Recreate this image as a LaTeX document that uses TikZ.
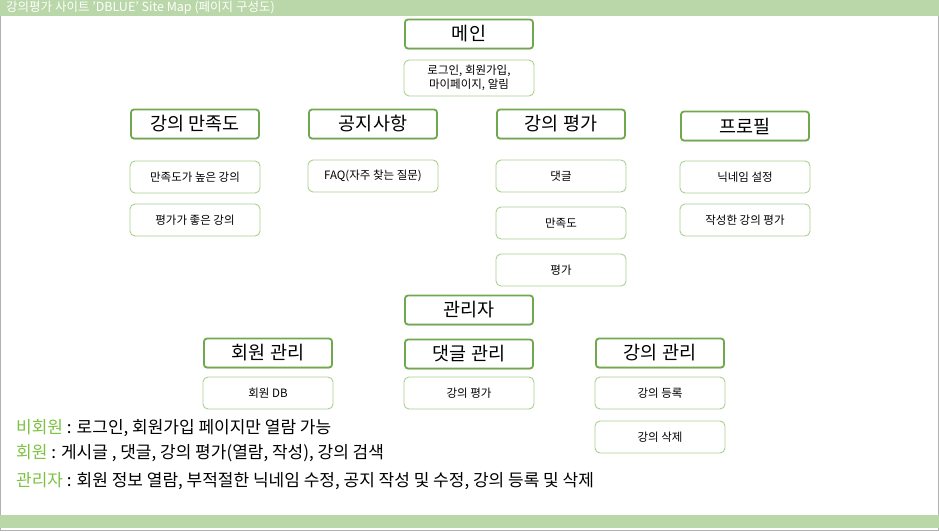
\documentclass[tikz,border=0pt]{standalone}
\usepackage{fontspec}
\setmainfont{Noto Sans CJK KR}
\usetikzlibrary{shadows}
\definecolor{gbar}{HTML}{B9D7A8}
\definecolor{gdark}{HTML}{70A84E}
\definecolor{glight}{HTML}{A9D08E}
\definecolor{gtxt}{HTML}{7CC242}
\tikzset{x=1pt,y=-1pt,
 title/.style={draw=gdark,line width=1.8pt,rounded corners=3pt,fill=white,minimum width=128pt,minimum height=29pt,font=\fontsize{18.5}{20}\selectfont,inner sep=0pt,drop shadow={shadow xshift=0pt,shadow yshift=-1pt,opacity=0.35}},
 sub/.style={draw=glight,line width=0.9pt,rounded corners=5pt,fill=white,minimum width=130pt,minimum height=32pt,font=\fontsize{11.5}{14}\selectfont,inner sep=0pt,align=center},
 leg/.style={anchor=west,font=\fontsize{17}{19}\selectfont,inner sep=0pt}}
\begin{document}
\begin{tikzpicture}
\useasboundingbox (0,0) rectangle (939,531);
\draw[gray!60] (0.5,0.5) rectangle (938.5,530.5);
\fill[gbar] (0,0) rectangle (939,16);
\fill[gbar] (0,515) rectangle (939,528);
\node[anchor=west,text=white,font=\fontsize{12.5}{13}\selectfont,inner sep=0pt] (hdr) at (6,8) {강의평가 사이트 'DBLUE' Site Map (페이지 구성도)};
\node[title] (main) at (469,34) {메인};
\node[sub,minimum height=36pt] (s0) at (469,78) {로그인, 회원가입,\\마이페이지, 알림};
\node[title] (t1) at (195,124) {강의 만족도};
\node[title] (t2) at (373,124) {공지사항};
\node[title] (t3) at (561,124) {강의 평가};
\node[title] (t4) at (745,126) {프로필};
\node[sub] (a1) at (195,177) {만족도가 높은 강의};
\node[sub] (a2) at (195,220) {평가가 좋은 강의};
\node[sub] (b1) at (373,176) {FAQ(자주 찾는 질문)};
\node[sub] (c1) at (561,176) {댓글};
\node[sub] (c2) at (561,223) {만족도};
\node[sub] (c3) at (561,270) {평가};
\node[sub] (d1) at (745,177) {닉네임 설정};
\node[sub] (d2) at (745,220) {작성한 강의 평가};
\node[title] (adm) at (469,310) {관리자};
\node[title] (m1) at (268,353) {회원 관리};
\node[title] (m2) at (469,354) {댓글 관리};
\node[title] (m3) at (660,353) {강의 관리};
\node[sub] (e1) at (268,393) {회원 DB};
\node[sub] (e2) at (469,393) {강의 평가};
\node[sub] (e3) at (660,393) {강의 등록};
\node[sub] (e4) at (660,437) {강의 삭제};
\node[leg] (l1) at (16,428) {\textcolor{gtxt}{비회원} : 로그인, 회원가입 페이지만 열람 가능};
\node[leg] (l2) at (16,453) {\textcolor{gtxt}{회원} : 게시글 , 댓글, 강의 평가(열람, 작성), 강의 검색};
\node[leg] (l3) at (16,481) {\textcolor{gtxt}{관리자} : 회원 정보 열람, 부적절한 닉네임 수정, 공지 작성 및 수정, 강의 등록 및 삭제};
\end{tikzpicture}
\end{document}
